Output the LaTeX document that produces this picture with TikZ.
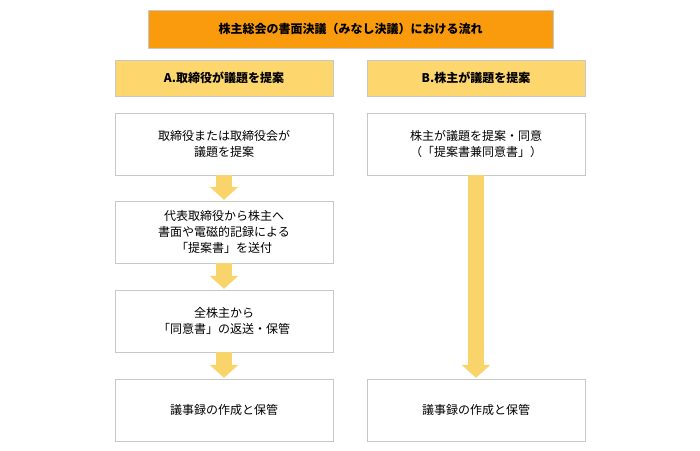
\documentclass[tikz,border=0pt]{standalone}
\usepackage{fontspec}
\setmainfont{Noto Sans CJK JP}
\usetikzlibrary{positioning,arrows.meta}
\definecolor{titleorange}{HTML}{F99B0C}
\definecolor{headyellow}{HTML}{FDD66E}
\definecolor{flowyellow}{HTML}{F9D46B}
\definecolor{boxgray}{HTML}{C8C8C8}
\begin{document}
\begin{tikzpicture}[x=1pt, y=-1pt, font=\fontsize{12}{16}\selectfont,
                    title/.style = {rectangle,
                                    fill = titleorange,
                                    draw = boxgray,
                                    minimum width = 405pt,
                                    minimum height = 38pt,
                                    font = \fontsize{12}{16}\selectfont\bfseries},
                    head/.style  = {rectangle,
                                    fill = headyellow,
                                    draw = boxgray,
                                    minimum width = 218pt,
                                    minimum height = 36pt,
                                    font = \fontsize{12}{16}\selectfont\bfseries},
                    task/.style  = {rectangle,
                                    fill = white,
                                    draw = boxgray,
                                    align = center,
                                    minimum width = 218pt,
                                    minimum height = 62pt},
                    flow/.style  = {draw = flowyellow,
                                    line width = 16pt,
                                    -{Triangle[width = 28pt, length = 13pt]},
                                    shorten >= 1pt}]

\useasboundingbox (0,0) rectangle (700,450);

\node[title] (t) at (350.5,29) {株主総会の書面決議（みなし決議）における流れ};
\node[head] (ha) at (224,78) {A.取締役が議題を提案};
\node[head] (hb) at (476,78) {B.株主が議題を提案};

\node[task] (a1) at (224,144) {取締役または取締役会が\\議題を提案};
\node[task] (a2) at (224,232) {代表取締役から株主へ\\書面や電磁的記録による\\「提案書」を送付};
\node[task] (a3) at (224,321) {全株主から\\「同意書」の返送・保管};
\node[task] (a4) at (224,410) {議事録の作成と保管};
\node[task] (b1) at (476,144) {株主が議題を提案・同意\\（「提案書兼同意書」）};
\node[task] (b2) at (476,410) {議事録の作成と保管};

\path (a1) edge[flow] (a2);
\path (a2) edge[flow] (a3);
\path (a3) edge[flow] (a4);
\path (b1) edge[flow] (b2);

\end{tikzpicture}
\end{document}
